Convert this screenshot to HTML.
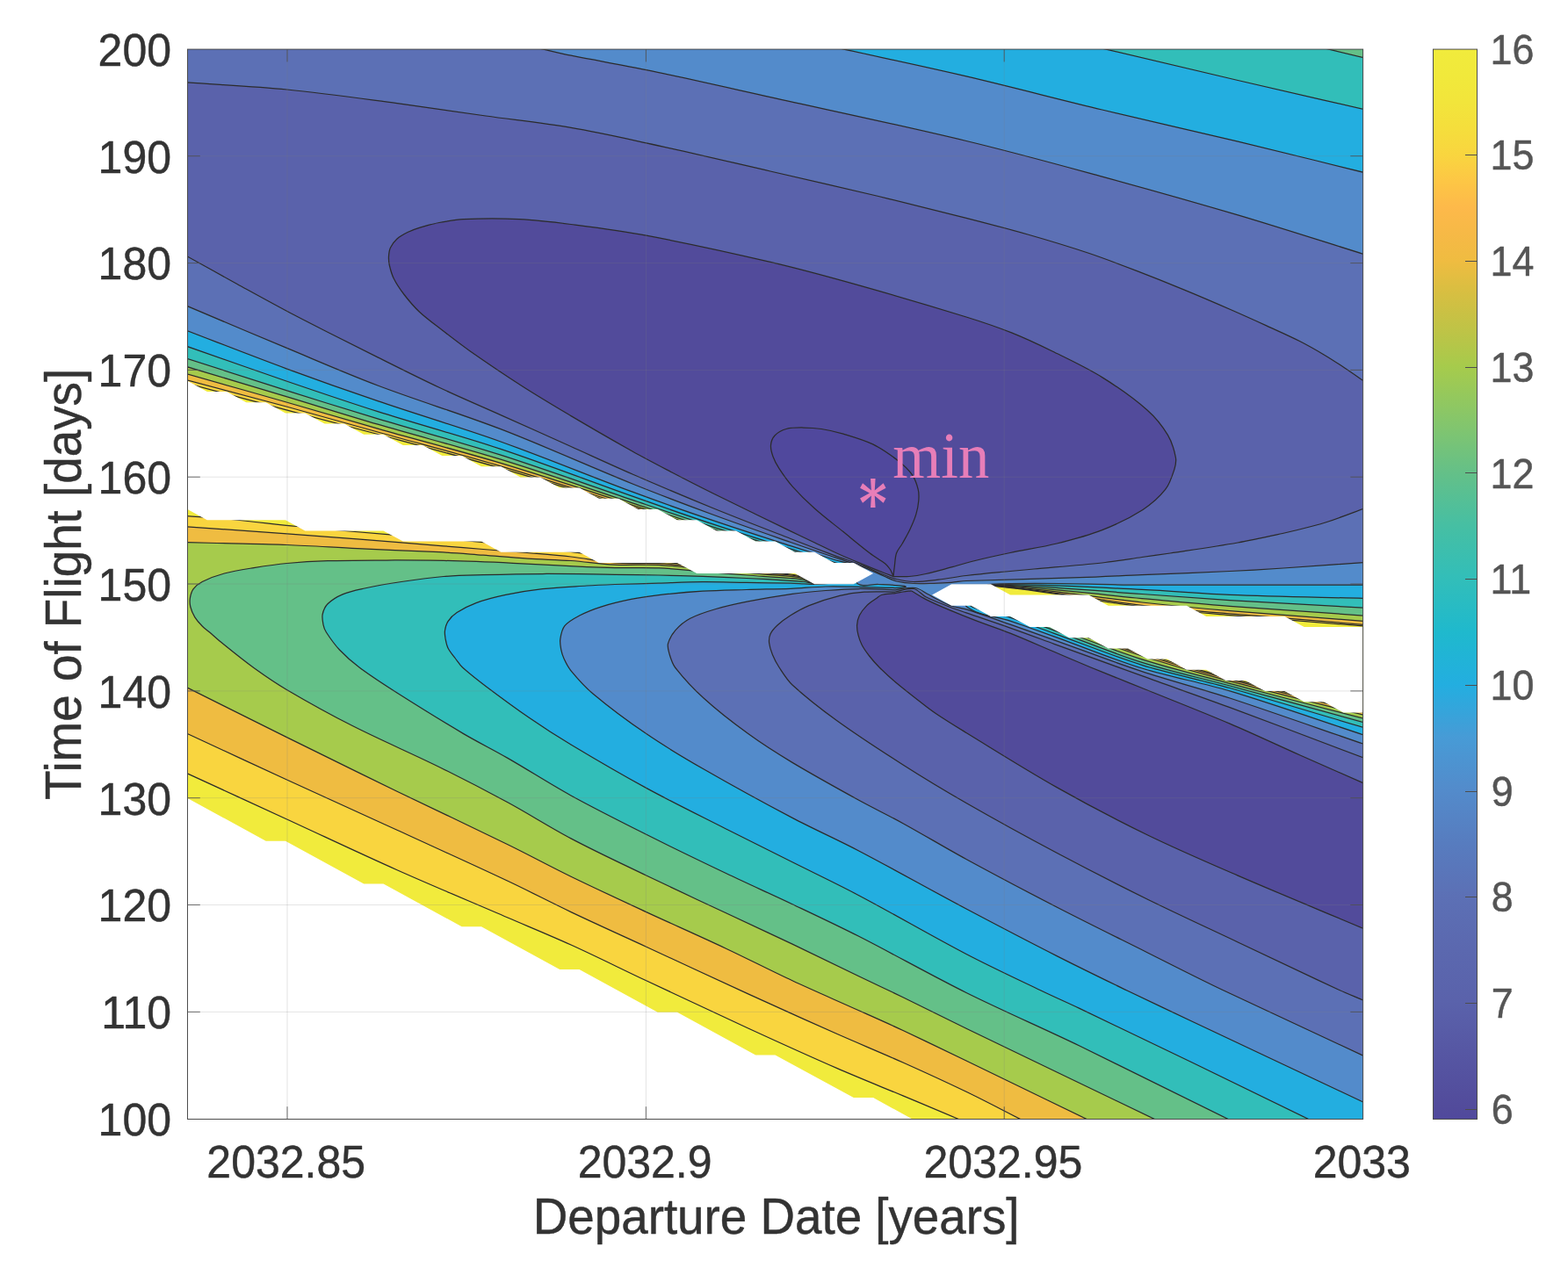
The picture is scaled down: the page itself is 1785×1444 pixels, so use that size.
<!DOCTYPE html>
<html lang="en"><head><meta charset="utf-8"><style>html,body{margin:0;padding:0;background:#fff}body{width:1785px;height:1444px;overflow:hidden}svg{display:block}</style></head><body>
<svg width="1785" height="1444" viewBox="0 0 1785 1444">
<defs><clipPath id="pc"><rect x="213.5" y="56.1" width="1338.1" height="1218.4"/></clipPath>
<linearGradient id="cb" x1="0" y1="0" x2="0" y2="1">
<stop offset="0.0000" stop-color="#f1eb3c"/>
<stop offset="0.0247" stop-color="#f1e93b"/>
<stop offset="0.0495" stop-color="#f2e53b"/>
<stop offset="0.0742" stop-color="#f5de3c"/>
<stop offset="0.0990" stop-color="#f9d53f"/>
<stop offset="0.1237" stop-color="#fdc645"/>
<stop offset="0.1484" stop-color="#fdb94a"/>
<stop offset="0.1732" stop-color="#f6b946"/>
<stop offset="0.1979" stop-color="#efbc41"/>
<stop offset="0.2227" stop-color="#dbbe41"/>
<stop offset="0.2474" stop-color="#c9c144"/>
<stop offset="0.2721" stop-color="#b8c548"/>
<stop offset="0.2969" stop-color="#a6cb4c"/>
<stop offset="0.3464" stop-color="#86c66a"/>
<stop offset="0.3958" stop-color="#64c088"/>
<stop offset="0.4453" stop-color="#46bfa3"/>
<stop offset="0.4948" stop-color="#32beb9"/>
<stop offset="0.5443" stop-color="#1fb9cd"/>
<stop offset="0.5938" stop-color="#23aee0"/>
<stop offset="0.6432" stop-color="#479bd6"/>
<stop offset="0.6927" stop-color="#538bcb"/>
<stop offset="0.7422" stop-color="#577cbf"/>
<stop offset="0.7917" stop-color="#5c70b5"/>
<stop offset="0.8412" stop-color="#5b68af"/>
<stop offset="0.8906" stop-color="#5a62ab"/>
<stop offset="0.9401" stop-color="#5656a3"/>
<stop offset="0.9896" stop-color="#524b9b"/>
<stop offset="1.0000" stop-color="#50489d"/>
</linearGradient></defs>
<rect width="1785" height="1444" fill="#fff"/>
<g clip-path="url(#pc)">
<rect x="213.5" y="56.1" width="1338.1" height="1218.4" fill="#5a62ab"/>
<path d="M1017 656.5C1013.5 655.2 1009.9 653.9 1006.4 652.5C998.9 649.5 991.4 646.5 984 643.4C974.6 639.5 965.2 635.7 956 631.5C946.6 627.3 937.3 622.6 928 618.2C918.7 613.8 909.3 609.4 900 604.9C886.6 598.5 873.3 592 860 585.5C843.3 577.4 826.6 569.3 810 561C794.9 553.5 779.9 545.8 765 538C749.9 530.1 734.8 522.3 720 514C696.5 500.8 673.2 487.3 650 473.6C631.5 462.6 612.9 451.6 594.8 440C574.7 427.1 554.9 413.7 535.3 400C524.1 392.1 513.3 383.7 502.5 375.3C494 368.7 485.2 362.4 477.3 355C470.8 348.9 465.1 342 459.7 335C455.4 329.4 451.4 323.6 448.3 317.3C445.9 312.5 444.5 307.2 443.3 302C442.6 298.7 442.3 295.3 442.5 292C442.7 288.6 443 285.1 444.5 282C446.3 278.2 448.9 274.8 452 272C455.5 268.8 459.8 266.6 464 264.5C468.3 262.4 472.7 260.7 477.3 259.3C484.8 257 492.3 255 500 253.5C509.2 251.8 518.4 250.1 527.7 249.7C548.7 248.8 569.8 248.7 590.8 249.7C610.6 250.6 630.3 253 650 255.5C678.6 259.2 707.3 262.8 735.7 268.2C783 277.1 830 287.4 876.9 298.4C910.7 306.3 944.3 315.5 977.7 324.9C1018.6 336.4 1059.4 348.4 1100 361C1117.4 366.4 1134.6 372.2 1151.5 378.9C1167.3 385.2 1182.7 392.5 1198 400C1217.1 409.4 1236.5 418.4 1254.6 429.6C1272.6 440.8 1290.1 453 1306 467C1315.2 475.1 1323.1 484.9 1329.4 495.4C1334.1 503.2 1336.7 512.1 1338.4 521C1339.2 525.3 1338.3 529.8 1337 534C1334.4 542 1332 550.5 1326.8 557.2C1319.7 566.3 1310.7 574.1 1301 580.4C1286.5 589.7 1270.7 597.3 1254.6 603.6C1237.9 610.2 1220.4 614.7 1203 619C1185.5 623.3 1167.6 625.8 1150 629.5C1136.6 632.3 1123.3 635.2 1110 638.5C1100.6 640.8 1091.4 643.7 1082 646.2C1072.7 648.7 1063.4 651.4 1054 653.5C1047.7 654.9 1041.4 656 1035 656.5C1029 657 1023 656.5 1017 656.5Z" fill="#524b9b"/>
<path d="M1037.3 672.8C1034.2 673.2 1031.1 673.5 1028 674C1025 674.5 1022 675.2 1019 675.6C1013.9 676.3 1008.6 676.2 1003.6 677.5C1001.4 678.1 999.8 679.9 998 681.2C994.2 683.9 990.1 686.3 986.8 689.6C983.5 692.9 980.5 696.6 978.4 700.8C976.7 704.2 975.8 708.2 975.6 712C975.4 715.8 976.1 719.5 977 723.2C978 727.1 979.3 730.9 981.2 734.5C983.5 738.9 986.5 743 989.6 747C993.1 751.5 996.8 755.7 1000.8 759.7C1006.6 765.5 1012.7 771.2 1019 776.5C1028.6 784.6 1038.6 792.3 1048.5 800C1054.2 804.5 1060 809 1066 813C1077.1 820.5 1088.6 827.5 1100 834.5C1134.2 855.4 1168.1 876.9 1203 896.6C1236.8 915.7 1271.1 933.7 1306 950.7C1339.9 967.2 1374.6 982.1 1409.2 997.1C1456.8 1017.7 1504.8 1037.4 1552.6 1057.6L1553.6 1057.6L1553.6 892L1552.6 892C1528.4 881.3 1504.2 870.8 1480 860C1453.3 848.1 1426.9 835.5 1400 824.1C1366.9 810 1333.3 797 1300 783.5C1280.6 775.6 1261.1 768 1241.7 760C1227.7 754.2 1213.9 748.2 1200 742.3C1183.3 735.2 1166.8 727.8 1150 721.1C1136.8 715.8 1123.3 711.5 1110 706.4C1100.6 702.8 1091.3 699.1 1082 695.2C1072.6 691.2 1063.2 687.2 1054 682.6C1048.2 679.7 1042.9 676.1 1037.3 672.8Z" fill="#524b9b"/>
<path d="M1017 656C1017.4 652.3 1017.8 648.7 1018.3 645C1019 640 1018.9 634.8 1020.5 630C1021.9 625.9 1025.1 622.7 1027.2 619C1030.3 613.5 1033.5 608 1036.2 602.2C1038.8 596.7 1041.2 591.2 1042.9 585.4C1044.3 580.7 1045.3 575.7 1045.7 570.8C1046.1 566.3 1046.3 561.7 1045.2 557.4C1043.8 551.5 1041.8 545.6 1038.4 540.6C1034.2 534.5 1028.6 529.4 1022.7 524.9C1013.5 517.8 1004 511 993.6 505.9C982.9 500.7 971.4 497.5 960 494.1C951.8 491.7 943.4 489.8 935 488.5C928.3 487.4 921.5 487 914.7 487C908.1 487 901.3 486.8 895 488.5C890.2 489.8 885.4 492.4 882 496C879.3 498.9 877.8 503.1 877.5 507C877.1 511.4 878.5 515.8 880 520C881.7 524.8 884.2 529.3 887 533.6C891.6 540.6 896.4 547.5 902 553.8C909.9 562.7 918.4 571.1 927.3 579C937.8 588.4 949.1 596.8 960 605.6C970.1 613.8 980 622.1 990.3 630C995.9 634.3 1002.3 637.6 1007.8 642C1010 643.8 1011.8 646.1 1013.4 648.5C1014.9 650.8 1015.8 653.5 1017 656Z" fill="#50489d"/>
<path d="M212.5 291.6C231.7 302.2 250.8 312.9 270 323.5C288.6 333.7 307.2 344 326 354C342.7 362.9 359.6 371.4 376.5 380C394.3 389 412.1 398 430 406.9C453.3 418.5 476.5 430.3 500 441.3C523.1 452.2 546.7 462.2 570 472.6C596.7 484.6 623.3 496.5 650 508.5C673.3 519 696.5 529.8 720 540C749.9 553 779.9 565.7 810 578C839.9 590.2 870 601.8 900 613.5C916.6 620 933.3 626.4 950 632.6C961.3 636.8 972.8 640.4 984 644.8C991.5 647.7 998.6 651.5 1006 654.5C1010.6 656.4 1015.2 658.4 1020 659.5C1026.6 661 1033.3 662.4 1040 662.5C1049.4 662.6 1058.7 661.3 1068 660.2C1078.7 659 1089.3 656.8 1100 655.5C1116.6 653.5 1133.3 652.1 1150 650.5C1159 649.6 1168 648.8 1177 648C1202.9 645.7 1228.8 643.8 1254.6 641C1269.8 639.3 1284.9 636.7 1300 634.5C1310.7 633 1321.3 631.6 1332 630C1357.7 626.1 1383.4 622.5 1409 618C1426.1 615 1443 611.2 1460 607.5C1470.3 605.2 1480.6 602.7 1490.8 600C1497.9 598.2 1505 596.4 1512 594C1525.7 589.4 1539.1 584.1 1552.6 579.1L1552.6 863.1C1501.7 844 1451 824.5 1400 805.7C1366.8 793.4 1333.3 781.8 1300 769.7C1266.6 757.6 1233.3 745.4 1200 733.3C1183.3 727.2 1166.7 721 1150 715.1C1133.4 709.2 1116.7 703.7 1100 697.9C1094 695.8 1087.9 693.8 1082 691.5C1072.6 687.8 1063 684.3 1054 679.8C1049 677.3 1044.7 673.6 1040 670.5L1019 674C1007.3 674.1 995.6 673.4 984 674.2C974.6 674.9 965.2 676.2 956 678.4C944.1 681.3 932.4 685.1 921 689.6C913.6 692.5 906.7 696.6 900 700.8C894.7 704.1 889.6 707.8 885 712C881.9 714.9 878.8 718.1 877 722C875.6 725 875.3 728.7 875.6 732C876.1 736.6 877.6 741.1 879.4 745.4C881.5 750.5 884 755.4 887 760C891.6 767 895.9 774.3 902 780C917.9 794.6 935 807.9 952.5 820.5C977 838.2 1002.5 854.7 1028 871C1051.6 886.1 1075.7 900.6 1100 914.5C1134 934 1168.4 952.9 1203 971.3C1237.1 989.4 1271.4 1006.9 1306 1024C1340.2 1040.8 1374.8 1056.7 1409.2 1073C1447 1090.9 1484.7 1108.9 1522.6 1126.5C1532.5 1131.1 1542.6 1135.1 1552.6 1139.4L1553.6 1276.5L211.5 1276.5L212.5 291.6Z" fill="#5c70b5"/>
<path d="M212.5 93.9C250.6 96.6 288.8 98.2 326.8 102C368.7 106.1 410.3 112.1 452 117.6C485.7 122.1 519.3 127.3 553 132C585.3 136.5 617.8 140 650 145.4C678.7 150.2 707.2 156.6 735.7 162.8C782.9 173.1 829.8 184.2 876.9 195C918 204.4 959 213.7 1000 223.5C1033.4 231.5 1066.7 239.9 1100 248.4C1123.4 254.4 1146.8 260.4 1170 267C1193.5 273.7 1216.9 280.8 1240 288.5C1258.1 294.6 1276 301.5 1293.8 308.4C1311.8 315.3 1329.8 322.5 1347.6 329.9C1365.6 337.3 1383.5 345 1401.3 352.8C1414.8 358.7 1428.3 364.8 1441.7 370.9C1454.5 376.8 1467.4 382.4 1480 388.8C1489.4 393.6 1498.5 398.8 1507.6 404.2C1515.2 408.7 1522.6 413.6 1530 418.5C1537.6 423.5 1545.1 428.8 1552.6 434L1553.6 54.1L211.5 54.1Z" fill="#5c70b5"/>
<path d="M212.5 348.3C250.3 364.3 288.1 380.4 326 396.2C360.6 410.6 394.9 425.7 430 439C476.3 456.6 523.8 470.9 570 488.7C620.5 508.2 669.8 530.7 720 551C749.8 563 779.9 574.4 810 585.5C839.9 596.6 870 607 900 617.5C916.6 623.4 933.3 629 950 634.7C961.3 638.6 972.8 642 984 646.3C991.5 649.1 998.6 652.9 1006 656C1011 658.1 1015.8 660.7 1021 662C1027.2 663.5 1033.6 664.2 1040 664.5C1047.7 664.9 1055.3 664.5 1063 664.3C1069.7 664.1 1076.3 663.8 1083 663.3C1088.7 662.9 1094.3 661.7 1100 661.5C1143 659.9 1185.9 659.2 1228.9 657.7C1252.6 656.9 1276.3 655.6 1300 654.6C1333.3 653.2 1366.7 652.1 1400 650.5C1420.3 649.5 1440.5 648.3 1460.8 647C1491.4 645 1522 642.7 1552.6 640.6L1552.6 847.4C1501.7 829.9 1451.1 811.8 1400 795C1366.9 784.1 1333.1 775.5 1300 764.6C1266.4 753.5 1233.3 740.7 1200 728.8C1183.3 722.9 1166.7 716.9 1150 711.1C1133.4 705.3 1116.8 699.2 1100 693.9C1094.5 692.2 1088.5 691.9 1083 690C1077.8 688.2 1072.9 685.5 1068 683C1063.9 681 1060 678.6 1056 676.5C1051.4 674.1 1046.7 671.8 1042 669.5L1019 671.8C1005.2 671.4 991.5 670.4 977.7 670.5C965.1 670.6 952.5 671.5 940 672.5C927.3 673.5 914.6 674.5 902 676.3C885.2 678.7 868.4 681.6 851.7 684.9C839.4 687.3 827.1 690 815 693.5C805 696.4 794.9 699.5 785.7 704.3C779.4 707.6 773.7 712.3 769 717.7C765.2 722.1 762 727.3 760.5 732.9C759.5 736.7 760.9 740.8 762 744.6C763.6 749.9 765.1 755.6 768.5 760C778.3 772.7 789.4 784.5 801.3 795.3C817.2 809.8 834.3 823 851.7 835.6C867.9 847.4 884.8 858.1 902 868.4C926.9 883.3 952.3 897.3 977.7 911.3C994.3 920.4 1011.4 928.6 1028 937.7C1052.2 951 1075.8 965.3 1100 978.5C1134.1 997.1 1168.5 1015.2 1203 1033C1237.1 1050.6 1271.6 1067.5 1306 1084.7C1334.3 1098.9 1362.4 1113.4 1391 1127C1444.6 1152.6 1498.7 1177.3 1552.6 1202.5L1553.6 1276.5L211.5 1276.5L212.5 348.3Z" fill="#538bcb"/>
<path d="M614 55.1C626 57.8 637.9 60.8 650 63.2C678.5 68.9 707.2 73.7 735.7 79.6C782.9 89.5 829.9 100.2 876.9 110.6C951.3 127.1 1025.9 142.7 1100 160.5C1151.8 172.9 1203.2 187.1 1254.6 201.1C1306.3 215.2 1357.9 229.7 1409.2 244.9C1457.2 259.1 1504.8 274.6 1552.6 289.5L1553.6 54.1Z" fill="#538bcb"/>
<path d="M212.5 376.4C250.3 390.9 288 405.8 326 419.8C360.5 432.5 395.2 444.8 430 456.7C476.5 472.6 523.7 486.5 570 503C620.4 521 669.8 541.6 720 560.2C749.8 571.3 779.9 581.9 810 592.2C839.9 602.4 870 612 900 621.7C916.6 627.1 933.3 632.3 950 637.5C958.3 640.1 967.1 641.4 975 645C978.7 646.7 983.8 649 984 653C984.2 657.7 972.3 661.6 976 664.5C982.3 669.4 992 665.1 1000 665.5C1010 666 1020 666.4 1030 667.3C1030.5 667.3 1031.5 668.2 1031 668.3C1027.1 669.1 1023 669.5 1019 669.5C1005.2 669.5 991.5 668.6 977.7 668.3C965.1 668.1 952.6 667.7 940 668C926.6 668.3 913.3 669.8 900 670.3C883.3 670.9 866.7 671 850 671.5C833.3 672 816.6 672.2 800 673.2C784 674.2 768 675.6 752 677.4C740.8 678.7 729.6 680.2 718.5 682.4C707.2 684.7 695.9 687.3 684.9 690.8C676.3 693.5 667.7 696.8 659.7 701C653.6 704.2 647.2 707.4 642.9 712.7C639.5 716.8 638.6 722.6 637.8 727.8C637.2 731.7 638 735.7 638.7 739.6C639.4 743.2 640.5 746.7 642 750C644.2 754.8 646.6 759.7 650 763.8C657.7 773.1 665.7 782.2 675 790C694.4 806.3 714.8 821.4 735.7 835.6C756.9 850.1 779 863.2 801.3 876C834.5 895.1 868.1 913.5 902 931.4C926.9 944.5 952.7 955.9 977.7 969C1018.7 990.5 1059.1 1013.3 1100 1035C1134.2 1053.1 1168.5 1071.1 1203 1088.6C1229.5 1102.1 1256.2 1115 1283 1128C1307.8 1140 1332.8 1151.7 1357.7 1163.5C1422.6 1194.2 1487.6 1224.8 1552.6 1255.4L1553.6 1276.5L211.5 1276.5L212.5 376.4Z" fill="#23aee0"/>
<path d="M1552.6 666.2C1501.7 666.2 1450.9 666.2 1400 666.2C1366.7 666.2 1333.3 666.3 1300 666.2C1242.5 666 1185 662.4 1127.6 665.4C1121.3 665.7 1116.7 671.8 1112 676C1107.4 680.2 1095.2 686.4 1100 690.4C1113.6 701.5 1133.4 701.4 1150 707.1C1166.7 712.9 1183.4 718.8 1200 724.8C1233.4 736.8 1266.1 750.5 1300 761C1332.9 771.2 1367 777 1400 786.9C1451.3 802.3 1501.7 820.3 1552.6 837Z" fill="#23aee0"/>
<path d="M956.3 55.1C1004.2 65.7 1052.2 75.7 1100 86.9C1151.7 99 1203 112.6 1254.6 125C1306.1 137.3 1357.7 148.8 1409.2 161.1C1457.1 172.6 1504.8 184.6 1552.6 196.4L1553.6 54.1Z" fill="#23aee0"/>
<path d="M212.5 394.3C250.3 407.5 288.1 421 326 434C360.6 445.8 395.2 457.6 430 468.7C476.5 483.5 523.7 496 570 511.4C620.4 528.2 669.9 547.5 720 565.2C749.9 575.8 779.9 586.4 810 596.4C839.9 606.4 870 615.7 900 625.2C916.6 630.4 933.6 634.7 950 640.5C957 643 970 642.6 970 650C970 658 957.5 660.3 950 663C942.7 665.6 934.7 664.9 927 665.3C923 665.5 919 665 915 664.8C910 664.6 905 664.3 900 664.2C883.3 663.8 866.7 663.7 850 663.4C833.3 663.2 816.7 662.6 800 662.7C783.3 662.8 766.7 663.6 750 664.1C733.3 664.6 716.7 664.9 700 665.5C689.3 665.9 678.7 666.3 668 667C651.2 668.1 634.3 668.8 617.6 670.7C603.5 672.3 589.5 674.5 575.6 677.4C564.2 679.8 552.9 682.6 542 686.6C534.4 689.4 527 693.1 520.2 697.6C516.2 700.2 512.7 703.6 510 707.6C508 710.6 507.1 714.4 506.5 718C506 721 506.5 724 507 727C507.7 730.7 508.3 734.6 510 738C512.2 742.4 515.6 746.1 518.5 750C521.1 753.4 523.3 757.1 526.5 760C534.9 767.6 543.9 774.6 553 781.4C569.6 793.9 586.3 806.2 603.4 818C618.6 828.5 634.2 838.5 650 848C678.3 865 706.7 881.6 735.7 897.4C765.6 913.7 796.2 928.6 826.5 944C851.6 956.7 876.8 969.2 902 981.8C927.2 994.4 952.8 1006.5 977.7 1019.7C1018.8 1041.4 1058.8 1065 1100 1086.5C1127.9 1101.1 1156.6 1114.4 1185 1128C1199.5 1135 1214.3 1141.5 1228.9 1148.4C1271.9 1168.9 1314.8 1189.6 1357.7 1210.3C1402.4 1231.9 1447 1253.8 1491.7 1275.5L211.5 1276.5L212.5 394.3Z" fill="#32beb9"/>
<path d="M1552.6 681.4C1501.7 680.1 1450.8 679.4 1400 677.4C1366.6 676.1 1333.4 672.8 1300 671.4C1242.6 668.9 1185.1 664.3 1127.6 665.7C1121.5 665.8 1117.3 672.3 1112.5 676C1108.1 679.4 1095.5 683.7 1100 686.9C1114.2 697.2 1133.4 697.4 1150 703.1C1166.8 708.9 1183.3 715.3 1200 721.3C1233.3 733.3 1266.2 746.8 1300 757.3C1332.9 767.5 1366.8 774.1 1400 783.5C1451 797.9 1501.7 813.6 1552.6 828.6Z" fill="#32beb9"/>
<path d="M1254.6 55.1C1306.1 67.2 1357.6 79.5 1409.2 91.5C1457 102.6 1504.8 113.5 1552.6 124.5L1553.6 54.1Z" fill="#32beb9"/>
<path d="M212.5 408.2C250.3 420.4 288.1 432.7 326 444.7C360.6 455.6 395.3 466.4 430 476.9C476.6 490.9 523.6 503.4 570 518.2C620.3 534.3 670 552.4 720 569.4C750 579.6 779.9 589.9 810 599.6C839.9 609.2 870 618.1 900 627.2C916.6 632.3 933.6 636.1 950 642C955.8 644.1 966.9 644.9 966 651C964.9 658.2 953.9 659.6 947 662C940.7 664.2 933.7 664.5 927 664.6C922.9 664.7 919 663 915 662.5C910 661.9 905 661.6 900 661.3C883.3 660.3 866.7 659.3 850 658.5C833.3 657.7 816.7 657 800 656.4C783.3 655.8 766.7 655.4 750 655C733.3 654.7 716.7 654.5 700 654.3C672.5 654 645.1 653.4 617.6 653.5C595.2 653.6 572.8 654.1 550.4 654.7C535.3 655.1 520.1 655.2 505 656.5C488.9 657.8 472.9 660.1 457 662.5C442.9 664.6 428.9 667 415 670C406.6 671.8 398 673.4 390 676.8C383.8 679.4 377.8 683 373 687.7C369.9 690.8 368.1 695.2 367.2 699.5C366.4 703.4 367.2 707.4 368 711.3C368.6 714.4 369.7 717.4 371.4 720C375.9 727 380.8 733.9 386.5 740C393.4 747.3 401 754 409 760C422.8 770.4 437.4 779.7 452 789C477 804.9 502.2 820.5 527.7 835.6C544.2 845.3 561.4 853.8 578 863.4C602.2 877.3 625.6 892.5 650 906C678.2 921.5 707 935.9 735.7 950.3C765.8 965.4 796.1 980 826.5 994.5C851.6 1006.5 876.9 1017.8 902 1029.7C927.3 1041.7 952.7 1053.6 977.7 1066.3C1018.7 1087.2 1058.8 1110 1100 1130.5C1142.5 1151.6 1186.2 1170.4 1228.9 1191C1286.2 1218.7 1343.1 1247.3 1400.2 1275.5L211.5 1276.5L212.5 408.2Z" fill="#64c088"/>
<path d="M1552.6 692.2C1501.7 689.3 1450.8 686.8 1400 683.6C1366.6 681.5 1333.3 678.7 1300 676.5C1242.5 672.8 1185.2 666.2 1127.6 666C1121.7 666 1117.9 672.7 1113 676C1108.7 678.9 1095.7 681.6 1100 684.4C1114.6 693.9 1133.4 694.6 1150 700.1C1166.8 705.7 1183.4 711.8 1200 717.8C1233.4 729.9 1266.2 743.7 1300 754.4C1332.9 764.8 1366.7 772 1400 781C1450.9 794.8 1501.7 808.8 1552.6 822.7Z" fill="#64c088"/>
<path d="M1508.5 55.1L1552.6 65.8L1553.6 54.1Z" fill="#64c088"/>
<path d="M212.5 417.6C250.3 428.9 288.2 440.2 326 451.6C360.7 462.1 395.2 473 430 483.2C476.6 496.9 523.6 508.9 570 523.2C620.3 538.7 670 556.3 720 572.8C750 582.7 779.9 592.8 810 602.2C839.9 611.6 870 620.3 900 629.2C916.6 634.1 933.6 637.8 950 643.5C955.1 645.3 965.2 646.3 964 651.5C962.5 658.2 952.5 659.3 946 661.5C940 663.6 933.4 664.5 927 664.3C922.8 664.1 919.1 661.2 915 660.3C910.1 659.2 905 658.9 900 658.5C883.3 657.1 866.7 656.2 850 655C833.3 653.7 816.7 652.4 800 651C783.3 649.6 766.7 647.5 750 646.8C733.3 646.1 716.7 646.8 700 646.6C689.3 646.4 678.7 646.1 668 645.6C640 644.3 612 642.5 584 641.3C557.7 640.1 531.3 639 505 638.4C483.3 637.9 461.7 638 440 638C417.7 638.1 395.3 638 373 638.7C357.6 639.2 342.2 640.1 326.8 641.5C314.1 642.7 301.6 644.6 289 646.6C277.7 648.4 266.4 650 255.4 653C246.7 655.3 238.2 658.4 230.2 662.5C226.3 664.5 222.6 667.4 220 670.9C217.9 673.8 217 677.5 216.4 681C215.9 684.3 216 687.8 216.8 691C217.8 695.2 219.6 699.2 221.8 702.9C224.1 706.6 227.1 709.9 230.2 713C232.8 715.6 235.8 717.6 238.6 720C242.4 723.3 246.1 726.8 250 730C262.6 740.2 275.1 750.5 288.2 760C300.5 768.9 312.9 777.5 326 785.2C350.8 799.8 376 813.8 401.7 826.8C434.9 843.6 469.1 858.2 502.5 874.7C527.9 887.2 553.1 900.3 578 913.8C602.3 927 625.6 942 650 954.9C678.1 969.8 707 983.2 735.7 997C765.9 1011.5 796.2 1025.6 826.5 1039.8C851.6 1051.6 876.9 1063.2 902 1075.1C927.3 1087.1 952.4 1099.6 977.7 1111.7C994.4 1119.8 1011.3 1127.6 1028 1135.7C1052.1 1147.4 1075.9 1159.6 1100 1171.3C1172.1 1206.2 1244.3 1240.8 1316.5 1275.5L211.5 1276.5L212.5 417.6Z" fill="#a6cb4c"/>
<path d="M1552.6 701.1C1501.7 697.5 1450.8 694.3 1400 690.4C1366.6 687.8 1333.3 684.5 1300 681.6C1242.5 676.5 1185.3 668 1127.6 666.3C1121.9 666.1 1118.5 673.2 1113.5 676C1109.2 678.4 1095.7 679.4 1100 681.9C1115.1 690.6 1133.5 691.7 1150 697.1C1166.8 702.6 1183.4 708.8 1200 714.8C1233.4 726.7 1266.2 740.1 1300 750.8C1333 761.3 1366.6 769.5 1400 778.4C1450.8 792 1501.7 805 1552.6 818.3Z" fill="#a6cb4c"/>
<path d="M212.5 425.8C250.3 436.5 288.2 447.2 326 458C360.7 468 395.3 478.3 430 488.2C476.6 501.5 523.6 513.5 570 527.4C620.3 542.5 670 559.3 720 575.3C750 584.9 779.9 595 810 604.3C839.9 613.6 870 622.2 900 630.9C916.6 635.7 933.6 639.4 950 645C954.4 646.5 963.4 647.6 962 652C960.1 658.1 951.1 658.9 945 661C939.2 663 933.1 664.4 927 664C922.7 663.7 919.2 660 915 658.8C910.1 657.4 905 656.9 900 656.4C883.4 654.8 866.7 653.9 850 652.5C833.3 651.1 816.7 649.5 800 648C783.3 646.5 766.7 644.1 750 643.3C733.4 642.5 716.6 643.9 700 643.1C683.3 642.3 666.7 639.7 650 638.5C633.6 637.4 617.2 637.2 600.8 636.2C583.8 635.1 566.9 633.5 550 632.2C533.3 631 516.7 629.6 500 628.7C468.9 627.1 437.8 626.2 406.7 624.7C380.1 623.4 353.5 621.5 326.8 620.5C300.2 619.5 273.6 619.2 247 618.5C235.5 618.2 224 617.9 212.5 617.6Z" fill="#efbc41"/>
<path d="M1552.6 707.4C1501.7 703.5 1450.8 700 1400 695.7C1366.6 692.9 1333.3 689.6 1300 686C1242.5 679.9 1185.3 669.7 1127.6 666.6C1122.1 666.3 1119 673.6 1114 676C1109.6 678.1 1095.7 677.6 1100 679.9C1115.4 688.1 1133.4 689.7 1150 695.1C1166.8 700.5 1183.3 706.5 1200 712.3C1233.3 723.8 1266.4 736.3 1300 747C1333.1 757.5 1366.5 766.8 1400 775.7C1450.7 789.2 1501.7 801.4 1552.6 814.2Z" fill="#efbc41"/>
<path d="M212.5 782.7C250.3 801.6 288.1 820.6 326 839.4C367.9 860.1 409.9 880.8 452 901.2C493.9 921.5 536.2 941.2 578 961.7C602.2 973.5 625.8 986.4 650 998.2C678.4 1012 707.1 1025.3 735.7 1038.6C765.9 1052.6 796.4 1066 826.5 1080.2C851.8 1092.1 876.7 1105 902 1116.8C927.1 1128.5 952.5 1139.4 977.7 1150.8C994.5 1158.3 1011.3 1165.7 1028 1173.5C1052.1 1184.8 1076 1196.4 1100 1208C1146.4 1230.4 1192.8 1253 1239.2 1275.5L211.5 1276.5Z" fill="#efbc41"/>
<path d="M212.5 432.7C250.3 442.8 288.2 452.7 326 463C360.7 472.5 395.3 482.4 430 492C476.7 505 523.5 517.1 570 530.8C620.2 545.6 670 561.7 720 577.3C750 586.7 779.9 596.8 810 605.9C839.9 615 870 623.5 900 632.1C916.6 636.9 933.6 640.4 950 646C953.8 647.3 961.5 648.8 960 652.5C957.7 658 949.6 658.6 944 660.5C938.5 662.4 932.7 664.2 927 663.7C922.6 663.3 919.2 659.2 915 657.8C910.2 656.2 905.1 655.5 900 655C883.4 653.3 866.7 652.5 850 651C833.3 649.5 816.7 647.6 800 646C783.3 644.5 766.7 642.5 750 641.7C733.4 640.9 716.6 642.3 700 641C683.2 639.7 666.7 635.9 650 634C633.4 632.1 616.7 630.9 600 629.5C583.3 628.1 566.7 626.9 550 625.5C535 624.3 520 623 505 621.8C472.2 619.1 439.5 616.4 406.7 613.8C380.1 611.7 353.4 609.8 326.8 607.9C288.7 605.2 250.6 602.5 212.5 599.8Z" fill="#f9d53f"/>
<path d="M1552.6 711.4C1501.7 707.2 1450.8 703.3 1400 698.9C1366.6 696 1333.3 693.2 1300 689.3C1242.4 682.5 1185.4 671 1127.6 666.9C1122.3 666.5 1119.4 674 1114.5 676C1110 677.8 1095.6 675.8 1100 677.9C1115.7 685.5 1133.4 687.7 1150 693.1C1166.8 698.5 1183.3 704.5 1200 710.3C1233.3 721.8 1266.4 734.4 1300 745C1333.1 755.5 1366.5 764.8 1400 773.6C1450.7 786.9 1501.7 798.8 1552.6 811.4Z" fill="#f9d53f"/>
<path d="M212.5 835.1C250.3 852.7 288.1 870.4 326 887.8C367.9 907.1 410 926.1 452 945.3C494 964.6 536.2 983.6 578 1003.3C602.2 1014.7 625.9 1027.1 650 1038.6C678.4 1052.1 707.1 1065 735.7 1078.2C774.4 1096.1 812.9 1114.2 851.7 1131.9C885.2 1147.2 918.8 1162.4 952.5 1177.3C977.6 1188.4 1003 1198.8 1028 1210C1052.1 1220.8 1076.2 1231.8 1100 1243.3C1121.4 1253.6 1142.3 1264.8 1163.5 1275.5L211.5 1276.5Z" fill="#f9d53f"/>
<path d="M212.5 436.5C250.3 446.6 288.2 456.7 326 466.8C360.7 476 395.4 485.1 430 494.5C476.7 507.2 523.5 519.7 570 533.2C620.2 547.8 670.1 563.6 720 579C750.1 588.3 779.9 598.3 810 607.4C839.9 616.4 870 624.7 900 633.2C916.6 638 933.6 641.4 950 647C953.2 648.1 959.6 650.1 958 653C955.4 657.9 948.2 658.2 943 660C937.8 661.7 932.4 664 927 663.4C922.5 662.9 919.3 658.5 915 657C910.2 655.3 905.1 654.5 900 654C883.4 652.2 866.7 651.5 850 650C833.3 648.5 816.7 646.8 800 645C790.3 644 780.7 642.6 771 641.6C747.3 639.1 723.6 637 700 634.5C686.5 633 673 631.1 659.5 629.6C622.3 625.4 585.2 621 548 617.4C514.4 614.2 480.7 612 447 609.2C428.8 607.7 410.6 606.1 392.4 604.5C374.2 602.9 356 601.3 337.8 599.5C312.9 597 288 593.9 263 591.5C246.2 589.9 229.3 588.8 212.5 587.5Z" fill="#f1eb3c"/>
<path d="M1552.6 713C1501.7 708.9 1450.8 705 1400 700.6C1366.6 697.7 1333.2 695.1 1300 691C1242.4 683.9 1185.4 671.9 1127.6 667.2C1122.5 666.8 1119.9 674.4 1115 676C1110.3 677.6 1095.4 674.4 1100 676.4C1116 683.3 1133.4 685.8 1150 691.1C1166.8 696.5 1183.4 702.5 1200 708.3C1233.4 720 1266.3 732.8 1300 743.5C1333 754 1366.5 763.3 1400 772.1C1450.7 785.3 1501.7 797 1552.6 809.5Z" fill="#f1eb3c"/>
<path d="M212.5 880.5C250.3 897.9 288.2 915.3 326 932.7C368 952 409.8 971.9 452 990.7C493.8 1009.3 536 1026.9 578 1045C602 1055.3 626.2 1065.2 650 1076C678.8 1089.1 707.1 1103.3 735.7 1116.8C774.3 1135 812.9 1153.2 851.7 1171C885.2 1186.4 918.7 1201.7 952.5 1216.4C977.5 1227.3 1002.8 1237.4 1028 1247.9C1049.9 1257.1 1071.8 1266.3 1093.7 1275.5L211.5 1276.5Z" fill="#f1eb3c"/>
<g fill="none" stroke="#2b2b2b" stroke-width="1.25" stroke-linejoin="round">
<path d="M1017 656.5C1013.5 655.2 1009.9 653.9 1006.4 652.5C998.9 649.5 991.4 646.5 984 643.4C974.6 639.5 965.2 635.7 956 631.5C946.6 627.3 937.3 622.6 928 618.2C918.7 613.8 909.3 609.4 900 604.9C886.6 598.5 873.3 592 860 585.5C843.3 577.4 826.6 569.3 810 561C794.9 553.5 779.9 545.8 765 538C749.9 530.1 734.8 522.3 720 514C696.5 500.8 673.2 487.3 650 473.6C631.5 462.6 612.9 451.6 594.8 440C574.7 427.1 554.9 413.7 535.3 400C524.1 392.1 513.3 383.7 502.5 375.3C494 368.7 485.2 362.4 477.3 355C470.8 348.9 465.1 342 459.7 335C455.4 329.4 451.4 323.6 448.3 317.3C445.9 312.5 444.5 307.2 443.3 302C442.6 298.7 442.3 295.3 442.5 292C442.7 288.6 443 285.1 444.5 282C446.3 278.2 448.9 274.8 452 272C455.5 268.8 459.8 266.6 464 264.5C468.3 262.4 472.7 260.7 477.3 259.3C484.8 257 492.3 255 500 253.5C509.2 251.8 518.4 250.1 527.7 249.7C548.7 248.8 569.8 248.7 590.8 249.7C610.6 250.6 630.3 253 650 255.5C678.6 259.2 707.3 262.8 735.7 268.2C783 277.1 830 287.4 876.9 298.4C910.7 306.3 944.3 315.5 977.7 324.9C1018.6 336.4 1059.4 348.4 1100 361C1117.4 366.4 1134.6 372.2 1151.5 378.9C1167.3 385.2 1182.7 392.5 1198 400C1217.1 409.4 1236.5 418.4 1254.6 429.6C1272.6 440.8 1290.1 453 1306 467C1315.2 475.1 1323.1 484.9 1329.4 495.4C1334.1 503.2 1336.7 512.1 1338.4 521C1339.2 525.3 1338.3 529.8 1337 534C1334.4 542 1332 550.5 1326.8 557.2C1319.7 566.3 1310.7 574.1 1301 580.4C1286.5 589.7 1270.7 597.3 1254.6 603.6C1237.9 610.2 1220.4 614.7 1203 619C1185.5 623.3 1167.6 625.8 1150 629.5C1136.6 632.3 1123.3 635.2 1110 638.5C1100.6 640.8 1091.4 643.7 1082 646.2C1072.7 648.7 1063.4 651.4 1054 653.5C1047.7 654.9 1041.4 656 1035 656.5C1029 657 1023 656.5 1017 656.5Z"/>
<path d="M1017 656C1017.4 652.3 1017.8 648.7 1018.3 645C1019 640 1018.9 634.8 1020.5 630C1021.9 625.9 1025.1 622.7 1027.2 619C1030.3 613.5 1033.5 608 1036.2 602.2C1038.8 596.7 1041.2 591.2 1042.9 585.4C1044.3 580.7 1045.3 575.7 1045.7 570.8C1046.1 566.3 1046.3 561.7 1045.2 557.4C1043.8 551.5 1041.8 545.6 1038.4 540.6C1034.2 534.5 1028.6 529.4 1022.7 524.9C1013.5 517.8 1004 511 993.6 505.9C982.9 500.7 971.4 497.5 960 494.1C951.8 491.7 943.4 489.8 935 488.5C928.3 487.4 921.5 487 914.7 487C908.1 487 901.3 486.8 895 488.5C890.2 489.8 885.4 492.4 882 496C879.3 498.9 877.8 503.1 877.5 507C877.1 511.4 878.5 515.8 880 520C881.7 524.8 884.2 529.3 887 533.6C891.6 540.6 896.4 547.5 902 553.8C909.9 562.7 918.4 571.1 927.3 579C937.8 588.4 949.1 596.8 960 605.6C970.1 613.8 980 622.1 990.3 630C995.9 634.3 1002.3 637.6 1007.8 642C1010 643.8 1011.8 646.1 1013.4 648.5C1014.9 650.8 1015.8 653.5 1017 656Z"/>
<path d="M1037.3 672.8C1034.2 673.2 1031.1 673.5 1028 674C1025 674.5 1022 675.2 1019 675.6C1013.9 676.3 1008.6 676.2 1003.6 677.5C1001.4 678.1 999.8 679.9 998 681.2C994.2 683.9 990.1 686.3 986.8 689.6C983.5 692.9 980.5 696.6 978.4 700.8C976.7 704.2 975.8 708.2 975.6 712C975.4 715.8 976.1 719.5 977 723.2C978 727.1 979.3 730.9 981.2 734.5C983.5 738.9 986.5 743 989.6 747C993.1 751.5 996.8 755.7 1000.8 759.7C1006.6 765.5 1012.7 771.2 1019 776.5C1028.6 784.6 1038.6 792.3 1048.5 800C1054.2 804.5 1060 809 1066 813C1077.1 820.5 1088.6 827.5 1100 834.5C1134.2 855.4 1168.1 876.9 1203 896.6C1236.8 915.7 1271.1 933.7 1306 950.7C1339.9 967.2 1374.6 982.1 1409.2 997.1C1456.8 1017.7 1504.8 1037.4 1552.6 1057.6"/>
<path d="M1552.6 892C1528.4 881.3 1504.2 870.8 1480 860C1453.3 848.1 1426.9 835.5 1400 824.1C1366.9 810 1333.3 797 1300 783.5C1280.6 775.6 1261.1 768 1241.7 760C1227.7 754.2 1213.9 748.2 1200 742.3C1183.3 735.2 1166.8 727.8 1150 721.1C1136.8 715.8 1123.3 711.5 1110 706.4C1100.6 702.8 1091.3 699.1 1082 695.2C1072.6 691.2 1063.2 687.2 1054 682.6C1048.2 679.7 1042.9 676.1 1037.3 672.8"/>
<path d="M212.5 291.6C231.7 302.2 250.8 312.9 270 323.5C288.6 333.7 307.2 344 326 354C342.7 362.9 359.6 371.4 376.5 380C394.3 389 412.1 398 430 406.9C453.3 418.5 476.5 430.3 500 441.3C523.1 452.2 546.7 462.2 570 472.6C596.7 484.6 623.3 496.5 650 508.5C673.3 519 696.5 529.8 720 540C749.9 553 779.9 565.7 810 578C839.9 590.2 870 601.8 900 613.5C916.6 620 933.3 626.4 950 632.6C961.3 636.8 972.8 640.4 984 644.8C991.5 647.7 998.6 651.5 1006 654.5C1010.6 656.4 1015.2 658.4 1020 659.5C1026.6 661 1033.3 662.4 1040 662.5C1049.4 662.6 1058.7 661.3 1068 660.2C1078.7 659 1089.3 656.8 1100 655.5C1116.6 653.5 1133.3 652.1 1150 650.5C1159 649.6 1168 648.8 1177 648C1202.9 645.7 1228.8 643.8 1254.6 641C1269.8 639.3 1284.9 636.7 1300 634.5C1310.7 633 1321.3 631.6 1332 630C1357.7 626.1 1383.4 622.5 1409 618C1426.1 615 1443 611.2 1460 607.5C1470.3 605.2 1480.6 602.7 1490.8 600C1497.9 598.2 1505 596.4 1512 594C1525.7 589.4 1539.1 584.1 1552.6 579.1"/>
<path d="M1552.6 863.1C1501.7 844 1451 824.5 1400 805.7C1366.8 793.4 1333.3 781.8 1300 769.7C1266.6 757.6 1233.3 745.4 1200 733.3C1183.3 727.2 1166.7 721 1150 715.1C1133.4 709.2 1116.7 703.7 1100 697.9C1094 695.8 1087.9 693.8 1082 691.5C1072.6 687.8 1063 684.3 1054 679.8C1049 677.3 1045.5 671.4 1040 670.5C1033 669.3 1026 672.8 1019 674"/>
<path d="M1019 674C1007.3 674.1 995.6 673.4 984 674.2C974.6 674.9 965.2 676.2 956 678.4C944.1 681.3 932.4 685.1 921 689.6C913.6 692.5 906.7 696.6 900 700.8C894.7 704.1 889.6 707.8 885 712C881.9 714.9 878.8 718.1 877 722C875.6 725 875.3 728.7 875.6 732C876.1 736.6 877.6 741.1 879.4 745.4C881.5 750.5 884 755.4 887 760C891.6 767 895.9 774.3 902 780C917.9 794.6 935 807.9 952.5 820.5C977 838.2 1002.5 854.7 1028 871C1051.6 886.1 1075.7 900.6 1100 914.5C1134 934 1168.4 952.9 1203 971.3C1237.1 989.4 1271.4 1006.9 1306 1024C1340.2 1040.8 1374.8 1056.7 1409.2 1073C1447 1090.9 1484.7 1108.9 1522.6 1126.5C1532.5 1131.1 1542.6 1135.1 1552.6 1139.4"/>
<path d="M212.5 93.9C250.6 96.6 288.8 98.2 326.8 102C368.7 106.1 410.3 112.1 452 117.6C485.7 122.1 519.3 127.3 553 132C585.3 136.5 617.8 140 650 145.4C678.7 150.2 707.2 156.6 735.7 162.8C782.9 173.1 829.8 184.2 876.9 195C918 204.4 959 213.7 1000 223.5C1033.4 231.5 1066.7 239.9 1100 248.4C1123.4 254.4 1146.8 260.4 1170 267C1193.5 273.7 1216.9 280.8 1240 288.5C1258.1 294.6 1276 301.5 1293.8 308.4C1311.8 315.3 1329.8 322.5 1347.6 329.9C1365.6 337.3 1383.5 345 1401.3 352.8C1414.8 358.7 1428.3 364.8 1441.7 370.9C1454.5 376.8 1467.4 382.4 1480 388.8C1489.4 393.6 1498.5 398.8 1507.6 404.2C1515.2 408.7 1522.6 413.6 1530 418.5C1537.6 423.5 1545.1 428.8 1552.6 434"/>
<path d="M212.5 348.3C250.3 364.3 288.1 380.4 326 396.2C360.6 410.6 394.9 425.7 430 439C476.3 456.6 523.8 470.9 570 488.7C620.5 508.2 669.8 530.7 720 551C749.8 563 779.9 574.4 810 585.5C839.9 596.6 870 607 900 617.5C916.6 623.4 933.3 629 950 634.7C961.3 638.6 972.8 642 984 646.3C991.5 649.1 998.6 652.9 1006 656C1011 658.1 1015.8 660.7 1021 662C1027.2 663.5 1033.6 664.2 1040 664.5C1047.7 664.9 1055.3 664.5 1063 664.3C1069.7 664.1 1076.3 663.8 1083 663.3C1088.7 662.9 1094.3 661.7 1100 661.5C1143 659.9 1185.9 659.2 1228.9 657.7C1252.6 656.9 1276.3 655.6 1300 654.6C1333.3 653.2 1366.7 652.1 1400 650.5C1420.3 649.5 1440.5 648.3 1460.8 647C1491.4 645 1522 642.7 1552.6 640.6"/>
<path d="M1552.6 847.4C1501.7 829.9 1451.1 811.8 1400 795C1366.9 784.1 1333.1 775.5 1300 764.6C1266.4 753.5 1233.3 740.7 1200 728.8C1183.3 722.9 1166.7 716.9 1150 711.1C1133.4 705.3 1116.8 699.2 1100 693.9C1094.5 692.2 1088.5 691.9 1083 690C1077.8 688.2 1072.9 685.5 1068 683C1063.9 681 1060 678.6 1056 676.5C1051.4 674.1 1047.2 670.2 1042 669.5C1034.4 668.5 1026.7 671 1019 671.8"/>
<path d="M1019 671.8C1005.2 671.4 991.5 670.4 977.7 670.5C965.1 670.6 952.5 671.5 940 672.5C927.3 673.5 914.6 674.5 902 676.3C885.2 678.7 868.4 681.6 851.7 684.9C839.4 687.3 827.1 690 815 693.5C805 696.4 794.9 699.5 785.7 704.3C779.4 707.6 773.7 712.3 769 717.7C765.2 722.1 762 727.3 760.5 732.9C759.5 736.7 760.9 740.8 762 744.6C763.6 749.9 765.1 755.6 768.5 760C778.3 772.7 789.4 784.5 801.3 795.3C817.2 809.8 834.3 823 851.7 835.6C867.9 847.4 884.8 858.1 902 868.4C926.9 883.3 952.3 897.3 977.7 911.3C994.3 920.4 1011.4 928.6 1028 937.7C1052.2 951 1075.8 965.3 1100 978.5C1134.1 997.1 1168.5 1015.2 1203 1033C1237.1 1050.6 1271.6 1067.5 1306 1084.7C1334.3 1098.9 1362.4 1113.4 1391 1127C1444.6 1152.6 1498.7 1177.3 1552.6 1202.5"/>
<path d="M614 55.1C626 57.8 637.9 60.8 650 63.2C678.5 68.9 707.2 73.7 735.7 79.6C782.9 89.5 829.9 100.2 876.9 110.6C951.3 127.1 1025.9 142.7 1100 160.5C1151.8 172.9 1203.2 187.1 1254.6 201.1C1306.3 215.2 1357.9 229.7 1409.2 244.9C1457.2 259.1 1504.8 274.6 1552.6 289.5"/>
<path d="M212.5 376.4C250.3 390.9 288 405.8 326 419.8C360.5 432.5 395.2 444.8 430 456.7C476.5 472.6 523.7 486.5 570 503C620.4 521 669.8 541.6 720 560.2C749.8 571.3 779.9 581.9 810 592.2C839.9 602.4 870 612 900 621.7C916.6 627.1 933.3 632.3 950 637.5C958.3 640.1 967.1 641.4 975 645C978.7 646.7 983.8 649 984 653C984.2 657.7 972.3 661.6 976 664.5C982.3 669.4 992 665.1 1000 665.5C1010 666 1020 666.4 1030 667.3C1030.5 667.3 1031.5 668.2 1031 668.3C1027.1 669.1 1023 669.5 1019 669.5C1005.2 669.5 991.5 668.6 977.7 668.3C965.1 668.1 952.6 667.7 940 668C926.6 668.3 913.3 669.8 900 670.3C883.3 670.9 866.7 671 850 671.5C833.3 672 816.6 672.2 800 673.2C784 674.2 768 675.6 752 677.4C740.8 678.7 729.6 680.2 718.5 682.4C707.2 684.7 695.9 687.3 684.9 690.8C676.3 693.5 667.7 696.8 659.7 701C653.6 704.2 647.2 707.4 642.9 712.7C639.5 716.8 638.6 722.6 637.8 727.8C637.2 731.7 638 735.7 638.7 739.6C639.4 743.2 640.5 746.7 642 750C644.2 754.8 646.6 759.7 650 763.8C657.7 773.1 665.7 782.2 675 790C694.4 806.3 714.8 821.4 735.7 835.6C756.9 850.1 779 863.2 801.3 876C834.5 895.1 868.1 913.5 902 931.4C926.9 944.5 952.7 955.9 977.7 969C1018.7 990.5 1059.1 1013.3 1100 1035C1134.2 1053.1 1168.5 1071.1 1203 1088.6C1229.5 1102.1 1256.2 1115 1283 1128C1307.8 1140 1332.8 1151.7 1357.7 1163.5C1422.6 1194.2 1487.6 1224.8 1552.6 1255.4"/>
<path d="M1552.6 666.2C1501.7 666.2 1450.9 666.2 1400 666.2C1366.7 666.2 1333.3 666.3 1300 666.2C1242.5 666 1185 662.4 1127.6 665.4C1121.3 665.7 1116.7 671.8 1112 676C1107.4 680.2 1095.2 686.4 1100 690.4C1113.6 701.5 1133.4 701.4 1150 707.1C1166.7 712.9 1183.4 718.8 1200 724.8C1233.4 736.8 1266.1 750.5 1300 761C1332.9 771.2 1367 777 1400 786.9C1451.3 802.3 1501.7 820.3 1552.6 837"/>
<path d="M956.3 55.1C1004.2 65.7 1052.2 75.7 1100 86.9C1151.7 99 1203 112.6 1254.6 125C1306.1 137.3 1357.7 148.8 1409.2 161.1C1457.1 172.6 1504.8 184.6 1552.6 196.4"/>
<path d="M212.5 394.3C250.3 407.5 288.1 421 326 434C360.6 445.8 395.2 457.6 430 468.7C476.5 483.5 523.7 496 570 511.4C620.4 528.2 669.9 547.5 720 565.2C749.9 575.8 779.9 586.4 810 596.4C839.9 606.4 870 615.7 900 625.2C916.6 630.4 933.6 634.7 950 640.5C957 643 970 642.6 970 650C970 658 957.5 660.3 950 663C942.7 665.6 934.7 664.9 927 665.3C923 665.5 919 665 915 664.8C910 664.6 905 664.3 900 664.2C883.3 663.8 866.7 663.7 850 663.4C833.3 663.2 816.7 662.6 800 662.7C783.3 662.8 766.7 663.6 750 664.1C733.3 664.6 716.7 664.9 700 665.5C689.3 665.9 678.7 666.3 668 667C651.2 668.1 634.3 668.8 617.6 670.7C603.5 672.3 589.5 674.5 575.6 677.4C564.2 679.8 552.9 682.6 542 686.6C534.4 689.4 527 693.1 520.2 697.6C516.2 700.2 512.7 703.6 510 707.6C508 710.6 507.1 714.4 506.5 718C506 721 506.5 724 507 727C507.7 730.7 508.3 734.6 510 738C512.2 742.4 515.6 746.1 518.5 750C521.1 753.4 523.3 757.1 526.5 760C534.9 767.6 543.9 774.6 553 781.4C569.6 793.9 586.3 806.2 603.4 818C618.6 828.5 634.2 838.5 650 848C678.3 865 706.7 881.6 735.7 897.4C765.6 913.7 796.2 928.6 826.5 944C851.6 956.7 876.8 969.2 902 981.8C927.2 994.4 952.8 1006.5 977.7 1019.7C1018.8 1041.4 1058.8 1065 1100 1086.5C1127.9 1101.1 1156.6 1114.4 1185 1128C1199.5 1135 1214.3 1141.5 1228.9 1148.4C1271.9 1168.9 1314.8 1189.6 1357.7 1210.3C1402.4 1231.9 1447 1253.8 1491.7 1275.5"/>
<path d="M1552.6 681.4C1501.7 680.1 1450.8 679.4 1400 677.4C1366.6 676.1 1333.4 672.8 1300 671.4C1242.6 668.9 1185.1 664.3 1127.6 665.7C1121.5 665.8 1117.3 672.3 1112.5 676C1108.1 679.4 1095.5 683.7 1100 686.9C1114.2 697.2 1133.4 697.4 1150 703.1C1166.8 708.9 1183.3 715.3 1200 721.3C1233.3 733.3 1266.2 746.8 1300 757.3C1332.9 767.5 1366.8 774.1 1400 783.5C1451 797.9 1501.7 813.6 1552.6 828.6"/>
<path d="M1254.6 55.1C1306.1 67.2 1357.6 79.5 1409.2 91.5C1457 102.6 1504.8 113.5 1552.6 124.5"/>
<path d="M212.5 408.2C250.3 420.4 288.1 432.7 326 444.7C360.6 455.6 395.3 466.4 430 476.9C476.6 490.9 523.6 503.4 570 518.2C620.3 534.3 670 552.4 720 569.4C750 579.6 779.9 589.9 810 599.6C839.9 609.2 870 618.1 900 627.2C916.6 632.3 933.6 636.1 950 642C955.8 644.1 966.9 644.9 966 651C964.9 658.2 953.9 659.6 947 662C940.7 664.2 933.7 664.5 927 664.6C922.9 664.7 919 663 915 662.5C910 661.9 905 661.6 900 661.3C883.3 660.3 866.7 659.3 850 658.5C833.3 657.7 816.7 657 800 656.4C783.3 655.8 766.7 655.4 750 655C733.3 654.7 716.7 654.5 700 654.3C672.5 654 645.1 653.4 617.6 653.5C595.2 653.6 572.8 654.1 550.4 654.7C535.3 655.1 520.1 655.2 505 656.5C488.9 657.8 472.9 660.1 457 662.5C442.9 664.6 428.9 667 415 670C406.6 671.8 398 673.4 390 676.8C383.8 679.4 377.8 683 373 687.7C369.9 690.8 368.1 695.2 367.2 699.5C366.4 703.4 367.2 707.4 368 711.3C368.6 714.4 369.7 717.4 371.4 720C375.9 727 380.8 733.9 386.5 740C393.4 747.3 401 754 409 760C422.8 770.4 437.4 779.7 452 789C477 804.9 502.2 820.5 527.7 835.6C544.2 845.3 561.4 853.8 578 863.4C602.2 877.3 625.6 892.5 650 906C678.2 921.5 707 935.9 735.7 950.3C765.8 965.4 796.1 980 826.5 994.5C851.6 1006.5 876.9 1017.8 902 1029.7C927.3 1041.7 952.7 1053.6 977.7 1066.3C1018.7 1087.2 1058.8 1110 1100 1130.5C1142.5 1151.6 1186.2 1170.4 1228.9 1191C1286.2 1218.7 1343.1 1247.3 1400.2 1275.5"/>
<path d="M1552.6 692.2C1501.7 689.3 1450.8 686.8 1400 683.6C1366.6 681.5 1333.3 678.7 1300 676.5C1242.5 672.8 1185.2 666.2 1127.6 666C1121.7 666 1117.9 672.7 1113 676C1108.7 678.9 1095.7 681.6 1100 684.4C1114.6 693.9 1133.4 694.6 1150 700.1C1166.8 705.7 1183.4 711.8 1200 717.8C1233.4 729.9 1266.2 743.7 1300 754.4C1332.9 764.8 1366.7 772 1400 781C1450.9 794.8 1501.7 808.8 1552.6 822.7"/>
<path d="M1508.5 55.1L1552.6 65.8"/>
<path d="M212.5 417.6C250.3 428.9 288.2 440.2 326 451.6C360.7 462.1 395.2 473 430 483.2C476.6 496.9 523.6 508.9 570 523.2C620.3 538.7 670 556.3 720 572.8C750 582.7 779.9 592.8 810 602.2C839.9 611.6 870 620.3 900 629.2C916.6 634.1 933.6 637.8 950 643.5C955.1 645.3 965.2 646.3 964 651.5C962.5 658.2 952.5 659.3 946 661.5C940 663.6 933.4 664.5 927 664.3C922.8 664.1 919.1 661.2 915 660.3C910.1 659.2 905 658.9 900 658.5C883.3 657.1 866.7 656.2 850 655C833.3 653.7 816.7 652.4 800 651C783.3 649.6 766.7 647.5 750 646.8C733.3 646.1 716.7 646.8 700 646.6C689.3 646.4 678.7 646.1 668 645.6C640 644.3 612 642.5 584 641.3C557.7 640.1 531.3 639 505 638.4C483.3 637.9 461.7 638 440 638C417.7 638.1 395.3 638 373 638.7C357.6 639.2 342.2 640.1 326.8 641.5C314.1 642.7 301.6 644.6 289 646.6C277.7 648.4 266.4 650 255.4 653C246.7 655.3 238.2 658.4 230.2 662.5C226.3 664.5 222.6 667.4 220 670.9C217.9 673.8 217 677.5 216.4 681C215.9 684.3 216 687.8 216.8 691C217.8 695.2 219.6 699.2 221.8 702.9C224.1 706.6 227.1 709.9 230.2 713C232.8 715.6 235.8 717.6 238.6 720C242.4 723.3 246.1 726.8 250 730C262.6 740.2 275.1 750.5 288.2 760C300.5 768.9 312.9 777.5 326 785.2C350.8 799.8 376 813.8 401.7 826.8C434.9 843.6 469.1 858.2 502.5 874.7C527.9 887.2 553.1 900.3 578 913.8C602.3 927 625.6 942 650 954.9C678.1 969.8 707 983.2 735.7 997C765.9 1011.5 796.2 1025.6 826.5 1039.8C851.6 1051.6 876.9 1063.2 902 1075.1C927.3 1087.1 952.4 1099.6 977.7 1111.7C994.4 1119.8 1011.3 1127.6 1028 1135.7C1052.1 1147.4 1075.9 1159.6 1100 1171.3C1172.1 1206.2 1244.3 1240.8 1316.5 1275.5"/>
<path d="M1552.6 701.1C1501.7 697.5 1450.8 694.3 1400 690.4C1366.6 687.8 1333.3 684.5 1300 681.6C1242.5 676.5 1185.3 668 1127.6 666.3C1121.9 666.1 1118.5 673.2 1113.5 676C1109.2 678.4 1095.7 679.4 1100 681.9C1115.1 690.6 1133.5 691.7 1150 697.1C1166.8 702.6 1183.4 708.8 1200 714.8C1233.4 726.7 1266.2 740.1 1300 750.8C1333 761.3 1366.6 769.5 1400 778.4C1450.8 792 1501.7 805 1552.6 818.3"/>
<path d="M212.5 425.8C250.3 436.5 288.2 447.2 326 458C360.7 468 395.3 478.3 430 488.2C476.6 501.5 523.6 513.5 570 527.4C620.3 542.5 670 559.3 720 575.3C750 584.9 779.9 595 810 604.3C839.9 613.6 870 622.2 900 630.9C916.6 635.7 933.6 639.4 950 645C954.4 646.5 963.4 647.6 962 652C960.1 658.1 951.1 658.9 945 661C939.2 663 933.1 664.4 927 664C922.7 663.7 919.2 660 915 658.8C910.1 657.4 905 656.9 900 656.4C883.4 654.8 866.7 653.9 850 652.5C833.3 651.1 816.7 649.5 800 648C783.3 646.5 766.7 644.1 750 643.3C733.4 642.5 716.6 643.9 700 643.1C683.3 642.3 666.7 639.7 650 638.5C633.6 637.4 617.2 637.2 600.8 636.2C583.8 635.1 566.9 633.5 550 632.2C533.3 631 516.7 629.6 500 628.7C468.9 627.1 437.8 626.2 406.7 624.7C380.1 623.4 353.5 621.5 326.8 620.5C300.2 619.5 273.6 619.2 247 618.5C235.5 618.2 224 617.9 212.5 617.6"/>
<path d="M1552.6 707.4C1501.7 703.5 1450.8 700 1400 695.7C1366.6 692.9 1333.3 689.6 1300 686C1242.5 679.9 1185.3 669.7 1127.6 666.6C1122.1 666.3 1119 673.6 1114 676C1109.6 678.1 1095.7 677.6 1100 679.9C1115.4 688.1 1133.4 689.7 1150 695.1C1166.8 700.5 1183.3 706.5 1200 712.3C1233.3 723.8 1266.4 736.3 1300 747C1333.1 757.5 1366.5 766.8 1400 775.7C1450.7 789.2 1501.7 801.4 1552.6 814.2"/>
<path d="M212.5 782.7C250.3 801.6 288.1 820.6 326 839.4C367.9 860.1 409.9 880.8 452 901.2C493.9 921.5 536.2 941.2 578 961.7C602.2 973.5 625.8 986.4 650 998.2C678.4 1012 707.1 1025.3 735.7 1038.6C765.9 1052.6 796.4 1066 826.5 1080.2C851.8 1092.1 876.7 1105 902 1116.8C927.1 1128.5 952.5 1139.4 977.7 1150.8C994.5 1158.3 1011.3 1165.7 1028 1173.5C1052.1 1184.8 1076 1196.4 1100 1208C1146.4 1230.4 1192.8 1253 1239.2 1275.5"/>
<path d="M212.5 432.7C250.3 442.8 288.2 452.7 326 463C360.7 472.5 395.3 482.4 430 492C476.7 505 523.5 517.1 570 530.8C620.2 545.6 670 561.7 720 577.3C750 586.7 779.9 596.8 810 605.9C839.9 615 870 623.5 900 632.1C916.6 636.9 933.6 640.4 950 646C953.8 647.3 961.5 648.8 960 652.5C957.7 658 949.6 658.6 944 660.5C938.5 662.4 932.7 664.2 927 663.7C922.6 663.3 919.2 659.2 915 657.8C910.2 656.2 905.1 655.5 900 655C883.4 653.3 866.7 652.5 850 651C833.3 649.5 816.7 647.6 800 646C783.3 644.5 766.7 642.5 750 641.7C733.4 640.9 716.6 642.3 700 641C683.2 639.7 666.7 635.9 650 634C633.4 632.1 616.7 630.9 600 629.5C583.3 628.1 566.7 626.9 550 625.5C535 624.3 520 623 505 621.8C472.2 619.1 439.5 616.4 406.7 613.8C380.1 611.7 353.4 609.8 326.8 607.9C288.7 605.2 250.6 602.5 212.5 599.8"/>
<path d="M1552.6 711.4C1501.7 707.2 1450.8 703.3 1400 698.9C1366.6 696 1333.3 693.2 1300 689.3C1242.4 682.5 1185.4 671 1127.6 666.9C1122.3 666.5 1119.4 674 1114.5 676C1110 677.8 1095.6 675.8 1100 677.9C1115.7 685.5 1133.4 687.7 1150 693.1C1166.8 698.5 1183.3 704.5 1200 710.3C1233.3 721.8 1266.4 734.4 1300 745C1333.1 755.5 1366.5 764.8 1400 773.6C1450.7 786.9 1501.7 798.8 1552.6 811.4"/>
<path d="M212.5 835.1C250.3 852.7 288.1 870.4 326 887.8C367.9 907.1 410 926.1 452 945.3C494 964.6 536.2 983.6 578 1003.3C602.2 1014.7 625.9 1027.1 650 1038.6C678.4 1052.1 707.1 1065 735.7 1078.2C774.4 1096.1 812.9 1114.2 851.7 1131.9C885.2 1147.2 918.8 1162.4 952.5 1177.3C977.6 1188.4 1003 1198.8 1028 1210C1052.1 1220.8 1076.2 1231.8 1100 1243.3C1121.4 1253.6 1142.3 1264.8 1163.5 1275.5"/>
<path d="M212.5 436.5C250.3 446.6 288.2 456.7 326 466.8C360.7 476 395.4 485.1 430 494.5C476.7 507.2 523.5 519.7 570 533.2C620.2 547.8 670.1 563.6 720 579C750.1 588.3 779.9 598.3 810 607.4C839.9 616.4 870 624.7 900 633.2C916.6 638 933.6 641.4 950 647C953.2 648.1 959.6 650.1 958 653C955.4 657.9 948.2 658.2 943 660C937.8 661.7 932.4 664 927 663.4C922.5 662.9 919.3 658.5 915 657C910.2 655.3 905.1 654.5 900 654C883.4 652.2 866.7 651.5 850 650C833.3 648.5 816.7 646.8 800 645C790.3 644 780.7 642.6 771 641.6C747.3 639.1 723.6 637 700 634.5C686.5 633 673 631.1 659.5 629.6C622.3 625.4 585.2 621 548 617.4C514.4 614.2 480.7 612 447 609.2C428.8 607.7 410.6 606.1 392.4 604.5C374.2 602.9 356 601.3 337.8 599.5C312.9 597 288 593.9 263 591.5C246.2 589.9 229.3 588.8 212.5 587.5"/>
<path d="M1552.6 713C1501.7 708.9 1450.8 705 1400 700.6C1366.6 697.7 1333.2 695.1 1300 691C1242.4 683.9 1185.4 671.9 1127.6 667.2C1122.5 666.8 1119.9 674.4 1115 676C1110.3 677.6 1095.4 674.4 1100 676.4C1116 683.3 1133.4 685.8 1150 691.1C1166.8 696.5 1183.4 702.5 1200 708.3C1233.4 720 1266.3 732.8 1300 743.5C1333 754 1366.5 763.3 1400 772.1C1450.7 785.3 1501.7 797 1552.6 809.5"/>
<path d="M212.5 880.5C250.3 897.9 288.2 915.3 326 932.7C368 952 409.8 971.9 452 990.7C493.8 1009.3 536 1026.9 578 1045C602 1055.3 626.2 1065.2 650 1076C678.8 1089.1 707.1 1103.3 735.7 1116.8C774.3 1135 812.9 1153.2 851.7 1171C885.2 1186.4 918.7 1201.7 952.5 1216.4C977.5 1227.3 1002.8 1237.4 1028 1247.9C1049.9 1257.1 1071.8 1266.3 1093.7 1275.5"/>
</g>
<path d="M213.5 433.8L235.8 446L258.1 446L280.4 458.2L302.7 458.2L325 470.4L347.3 470.4L369.6 482.5L391.9 482.5L414.2 494.7L436.5 494.7L458.8 506.9L481.1 506.9L503.4 519.1L525.7 519.1L548 531.3L570.3 531.3L592.6 543.5L614.9 543.5L637.2 555.6L659.5 555.6L681.8 567.8L704.1 567.8L726.4 580L748.7 580L771 592.2L793.3 592.2L815.6 604.4L837.9 604.4L860.2 616.6L882.5 616.6L904.9 628.7L927.2 628.7L949.5 640.9L971.8 640.9L994.1 653.1L971.8 665.3L927.2 665.3L904.9 653.1L793.3 653.1L771 640.9L681.8 640.9L659.5 628.7L570.3 628.7L548 616.6L458.8 616.6L436.5 604.4L347.3 604.4L325 592.2L235.8 592.2L213.5 580Z" fill="#fff"/>
<path d="M1061 677.5L1083.3 665.3L1127.9 665.3L1150.2 677.5L1239.4 677.5L1261.7 689.7L1350.9 689.7L1373.2 701.9L1462.4 701.9L1484.7 714L1551.6 714L1551.6 811.5L1529.3 811.5L1507 799.3L1484.7 799.3L1462.4 787.1L1440.1 787.1L1417.8 775L1395.5 775L1373.2 762.8L1350.9 762.8L1328.6 750.6L1306.3 750.6L1284 738.4L1261.7 738.4L1239.4 726.2L1217.1 726.2L1194.8 714L1172.5 714L1150.2 701.9L1127.9 701.9L1105.6 689.7L1083.3 689.7Z" fill="#fff"/>
<path d="M213.5 909L302.7 957.7L325 957.7L414.2 1006.5L436.5 1006.5L525.7 1055.2L548 1055.2L637.2 1103.9L659.5 1103.9L748.7 1152.7L771 1152.7L860.2 1201.4L882.5 1201.4L971.8 1250.1L994.1 1250.1L1038.7 1274.5L213.5 1274.5Z" fill="#fff"/>
<g stroke="#808080" stroke-opacity="0.21" stroke-width="1">
<path d="M327 56.1V1274.5"/>
<path d="M735.4 56.1V1274.5"/>
<path d="M1143.2 56.1V1274.5"/>
<path d="M213.5 177.7H1551.6"/>
<path d="M213.5 299.6H1551.6"/>
<path d="M213.5 421.4H1551.6"/>
<path d="M213.5 543.2H1551.6"/>
<path d="M213.5 665H1551.6"/>
<path d="M213.5 786.9H1551.6"/>
<path d="M213.5 908.7H1551.6"/>
<path d="M213.5 1030.5H1551.6"/>
<path d="M213.5 1152.4H1551.6"/>
</g>
</g>
<rect x="213.5" y="56.1" width="1338.1" height="1218.4" fill="none" stroke="#4d4d4d" stroke-width="1"/>
<g fill="none" stroke="#4d4d4d" stroke-width="1" stroke-opacity="0.8">
<path d="M327 1274.5v-14.3 M327 56.1v14.3"/>
<path d="M735.4 1274.5v-14.3 M735.4 56.1v14.3"/>
<path d="M1143.2 1274.5v-14.3 M1143.2 56.1v14.3"/>
<path d="M213.5 177.7h14.3 M1551.6 177.7h-14.3"/>
<path d="M213.5 299.6h14.3 M1551.6 299.6h-14.3"/>
<path d="M213.5 421.4h14.3 M1551.6 421.4h-14.3"/>
<path d="M213.5 543.2h14.3 M1551.6 543.2h-14.3"/>
<path d="M213.5 665h14.3 M1551.6 665h-14.3"/>
<path d="M213.5 786.9h14.3 M1551.6 786.9h-14.3"/>
<path d="M213.5 908.7h14.3 M1551.6 908.7h-14.3"/>
<path d="M213.5 1030.5h14.3 M1551.6 1030.5h-14.3"/>
<path d="M213.5 1152.4h14.3 M1551.6 1152.4h-14.3"/>
</g>
<rect x="1631.5" y="56.1" width="50" height="1218.4" fill="url(#cb)" stroke="#4d4d4d" stroke-width="1"/>
<g fill="none" stroke="#4d4d4d" stroke-width="1">
<path d="M1681.5 1263.5h-13.5"/>
<path d="M1681.5 1142.5h-13.5"/>
<path d="M1681.5 1021.5h-13.5"/>
<path d="M1681.5 901.5h-13.5"/>
<path d="M1681.5 780.5h-13.5"/>
<path d="M1681.5 659.5h-13.5"/>
<path d="M1681.5 538.5h-13.5"/>
<path d="M1681.5 418.5h-13.5"/>
<path d="M1681.5 297.5h-13.5"/>
<path d="M1681.5 176.5h-13.5"/>
</g>
<g font-family="'Liberation Sans', Arial, Helvetica, sans-serif" fill="#333333" stroke="#333333" stroke-width="0.45" stroke-linejoin="round">
<text transform="translate(195 74.7) scale(1 1.03)" font-size="50" text-anchor="end">200</text>
<text transform="translate(195 196.5) scale(1 1.03)" font-size="50" text-anchor="end">190</text>
<text transform="translate(195 318.4) scale(1 1.03)" font-size="50" text-anchor="end">180</text>
<text transform="translate(195 440.2) scale(1 1.03)" font-size="50" text-anchor="end">170</text>
<text transform="translate(195 562) scale(1 1.03)" font-size="50" text-anchor="end">160</text>
<text transform="translate(195 683.8) scale(1 1.03)" font-size="50" text-anchor="end">150</text>
<text transform="translate(195 805.7) scale(1 1.03)" font-size="50" text-anchor="end">140</text>
<text transform="translate(195 927.5) scale(1 1.03)" font-size="50" text-anchor="end">130</text>
<text transform="translate(195 1049.3) scale(1 1.03)" font-size="50" text-anchor="end">120</text>
<text transform="translate(195 1171.2) scale(1 1.03)" font-size="50" text-anchor="end">110</text>
<text transform="translate(195 1293) scale(1 1.03)" font-size="50" text-anchor="end">100</text>
<text transform="translate(325.7 1340.9) scale(1 1.03)" font-size="50" text-anchor="middle">2032.85</text>
<text transform="translate(734.1 1340.9) scale(1 1.03)" font-size="50" text-anchor="middle">2032.9</text>
<text transform="translate(1141.9 1340.9) scale(1 1.03)" font-size="50" text-anchor="middle">2032.95</text>
<text transform="translate(1550.3 1340.9) scale(1 1.03)" font-size="50" text-anchor="middle">2033</text>
<text transform="translate(1697.8 1279.6) scale(1 1.056)" font-size="44.8" fill="#555555" stroke="#555555">6</text>
<text transform="translate(1697.8 1158.9) scale(1 1.056)" font-size="44.8" fill="#555555" stroke="#555555">7</text>
<text transform="translate(1697.8 1038.2) scale(1 1.056)" font-size="44.8" fill="#555555" stroke="#555555">8</text>
<text transform="translate(1697.8 917.5) scale(1 1.056)" font-size="44.8" fill="#555555" stroke="#555555">9</text>
<text transform="translate(1696.6 796.8) scale(1 1.056)" font-size="44.8" fill="#555555" stroke="#555555">10</text>
<text transform="translate(1696.6 676.2) scale(1 1.056)" font-size="44.8" fill="#555555" stroke="#555555">11</text>
<text transform="translate(1696.6 555.5) scale(1 1.056)" font-size="44.8" fill="#555555" stroke="#555555">12</text>
<text transform="translate(1696.6 434.8) scale(1 1.056)" font-size="44.8" fill="#555555" stroke="#555555">13</text>
<text transform="translate(1696.6 314.1) scale(1 1.056)" font-size="44.8" fill="#555555" stroke="#555555">14</text>
<text transform="translate(1696.6 193.4) scale(1 1.056)" font-size="44.8" fill="#555555" stroke="#555555">15</text>
<text transform="translate(1696.6 72.7) scale(1 1.056)" font-size="44.8" fill="#555555" stroke="#555555">16</text>
<text transform="translate(606.8 1405.2) scale(1 1.056)" font-size="54.75">Departure Date [years]</text>
<text transform="translate(92.1 911) rotate(-90) scale(1 1.056)" font-size="54.8">Time of Flight [days]</text>
</g>
<g fill="#e77eb8">
<text transform="translate(1016.3 544) scale(0.7065 0.745)" font-family="'Liberation Serif', 'Times New Roman', serif" font-size="100">min</text>
<text transform="translate(993.6 561.4) scale(0.768 0.892)" x="-20.5" y="41" font-family="'DejaVu Serif', 'Liberation Serif', serif" font-weight="bold" font-size="80">*</text>
</g>
</svg>
</body></html>
